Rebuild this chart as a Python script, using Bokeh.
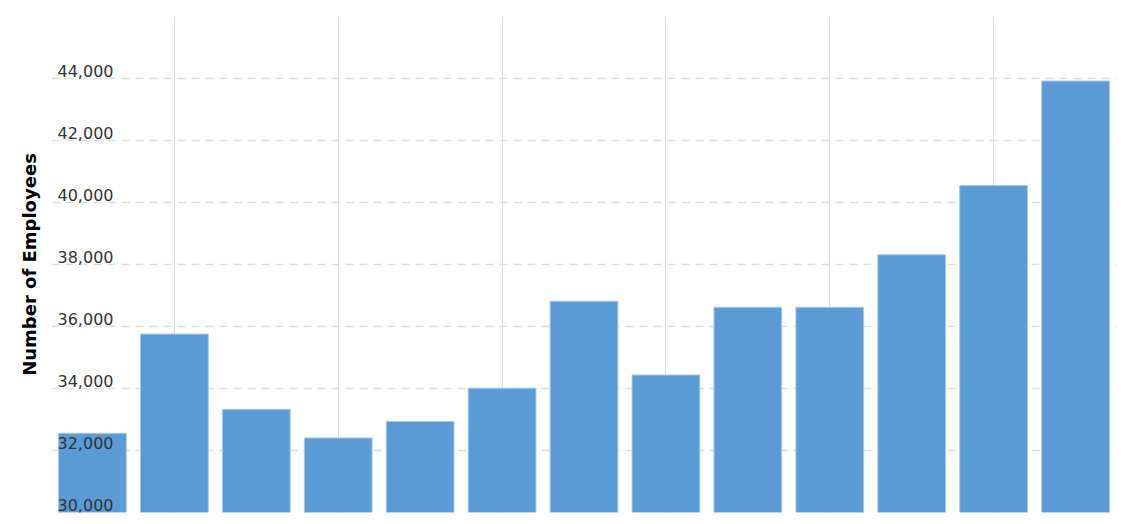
from bokeh.plotting import figure
from bokeh.models import Range1d, FixedTicker, ColumnDataSource
from bokeh.core.properties import value
from bokeh.embed import file_html
from bokeh.resources import INLINE

# employee headcount per period (13 bars, left to right)
positions = list(range(13))
employees = [32555, 35755, 33330, 32405, 32935, 34010, 36815, 34435, 36620, 36620, 38315, 40545, 43920]

tick_values = [30000, 32000, 34000, 36000, 38000, 40000, 42000, 44000]
tick_labels = ["30,000", "32,000", "34,000", "36,000", "38,000", "40,000", "42,000", "44,000"]
grid_values = [30000, 32000, 34000, 36000, 38000, 40000, 42000, 44000, 46000]
vgrid_positions = [1, 3, 5, 7, 9, 11]

bar_color = "#5b9bd5"

p = figure(width=1122, height=516, output_backend="svg", toolbar_location=None,
           x_range=Range1d(-0.5, 12.5), y_range=Range1d(30000, 46000),
           min_border_left=51, min_border_right=6, min_border_top=16, min_border_bottom=4)
p.outline_line_color = None
p.background_fill_color = "white"

p.xaxis.visible = False

# y axis only carries the title; values are written inside the plot
p.yaxis.ticker = FixedTicker(ticks=[])
p.yaxis.axis_label = "Number of Employees"
p.yaxis.axis_label_text_font = "DejaVu Sans"
p.yaxis.axis_label_text_font_style = "bold"
p.yaxis.axis_label_text_font_size = "18px"
p.yaxis.axis_label_text_color = "#000000"
p.yaxis.axis_label_standoff = 12
p.yaxis.major_label_standoff = 0
p.yaxis.major_tick_out = 0
p.yaxis.major_tick_in = 0
p.yaxis.minor_tick_out = 0
p.yaxis.minor_tick_in = 0
p.yaxis.axis_line_color = None

p.ygrid.ticker = FixedTicker(ticks=grid_values)
p.ygrid.grid_line_color = "#dddddd"
p.ygrid.grid_line_dash = "8 6"
p.ygrid.grid_line_width = 1.5

p.xgrid.ticker = FixedTicker(ticks=vgrid_positions)
p.xgrid.grid_line_color = "#dddddd"
p.xgrid.grid_line_width = 1

src = ColumnDataSource(dict(x=positions, top=employees))
p.vbar(x="x", top="top", bottom=30000, width=0.827, source=src,
       fill_color=bar_color, line_color="#a8caea", line_width=1)

lab = ColumnDataSource(dict(x=[-0.5] * len(tick_values), y=tick_values, text=tick_labels))
p.text(x="x", y="y", text="text", source=lab, x_offset=6, y_offset=-2,
       text_font=value("DejaVu Sans"), text_font_size="16px", text_color="#333333",
       text_baseline="bottom", text_align="left")

open("out.html", "w").write(file_html(p, INLINE))
